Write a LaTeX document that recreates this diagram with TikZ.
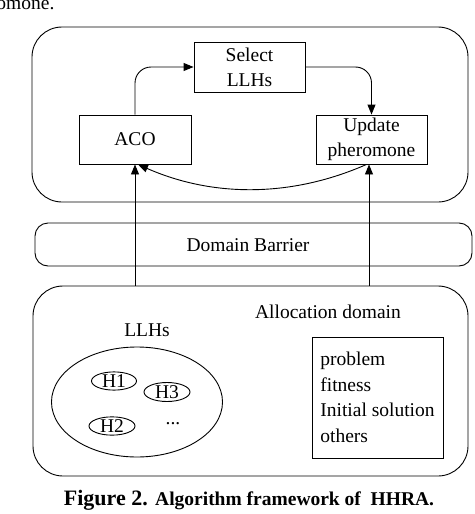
\documentclass[tikz,border=0pt]{standalone}
\usepackage{fontspec}
\setmainfont{Liberation Serif}
\usetikzlibrary{arrows.meta,shapes.geometric}
\begin{document}
\begin{tikzpicture}[x=1pt,y=-1pt, line width=0.9pt,
  txt/.style={font=\fontsize{19.5}{25}\selectfont, align=center, inner sep=0pt},
  frame/.style={draw, rectangle, inner sep=0pt},
  stepbox/.style={draw, rectangle, inner sep=0pt, minimum width=111pt, minimum height=49pt, font=\fontsize{19.5}{25}\selectfont, align=center},
  hnode/.style={draw, ellipse, inner sep=0pt, minimum width=45pt, minimum height=18pt, font=\fontsize{19.5}{25}\selectfont},
  arr/.style={-{Triangle[length=10pt,width=8pt]}}]
\useasboundingbox (0,0) rectangle (474,514);
\begin{scope}
\clip (0,0) rectangle (474,514);
\node[txt, anchor=base west] (frag) at (-4,9.5) {omone.};
\end{scope}
% frames
\node[frame, rounded corners=30pt, minimum width=436pt, minimum height=175pt] (top) at (250,114.5) {};
\node[frame, rounded corners=13pt, minimum width=437pt, minimum height=43pt] (barrier) at (253.5,244.5) {};
\node[txt] (barlbl) at (248,245) {Domain Barrier};
\node[frame, rounded corners=30pt, minimum width=435pt, minimum height=190pt] (alloc) at (250.5,381) {};
% top boxes
\node[stepbox, minimum height=50pt] (sel) at (249.5,67) {Select\\LLHs};
\node[stepbox, minimum width=112pt] (aco) at (135,139.5) {ACO};
\node[stepbox] (upd) at (371.5,139.5) {Update\\pheromone};
% arrows
\draw[arr, rounded corners=16pt] (aco.north) |- (sel.west);
\draw[arr, rounded corners=16pt] (sel.east) -| (upd.north);
\draw[arr] ([xshift=-5pt]upd.south) .. controls +(-75,33) and +(75,33) .. ([xshift=3pt]aco.south);
\draw[arr] (aco.south |- alloc.north) -- (aco.south);
\draw[arr] ([xshift=-2.5pt]upd.south |- alloc.north) -- ([xshift=-2.5pt]upd.south);
% allocation domain
\node[txt] (alloclbl) at (328,312) {Allocation domain};
\node[txt] (llhlbl) at (147,330) {LLHs};
\node[draw, ellipse, inner sep=0pt, minimum width=171pt, minimum height=110pt] (pool) at (137,402) {};
\node[hnode] (h1) at (114,381) {H1};
\node[hnode, minimum width=46pt, minimum height=19pt] (h3) at (167,392) {H3};
\node[hnode, minimum width=46pt] (h2) at (112,426) {H2};
\node[txt] (dots) at (173,424) {...};
\node[frame, minimum width=131pt, minimum height=121pt, align=left, font=\fontsize{19.5}{25.5}\selectfont] (info) at (377.5,397.5) {problem\\fitness\\Initial solution\\others};
% caption
\node[inner sep=0pt, font=\bfseries] (cap) at (249,500) {{\fontsize{22}{24}\selectfont Figure 2. }{\fontsize{19.5}{24}\selectfont Algorithm framework of\ \ HHRA.}};
\end{tikzpicture}
\end{document}
